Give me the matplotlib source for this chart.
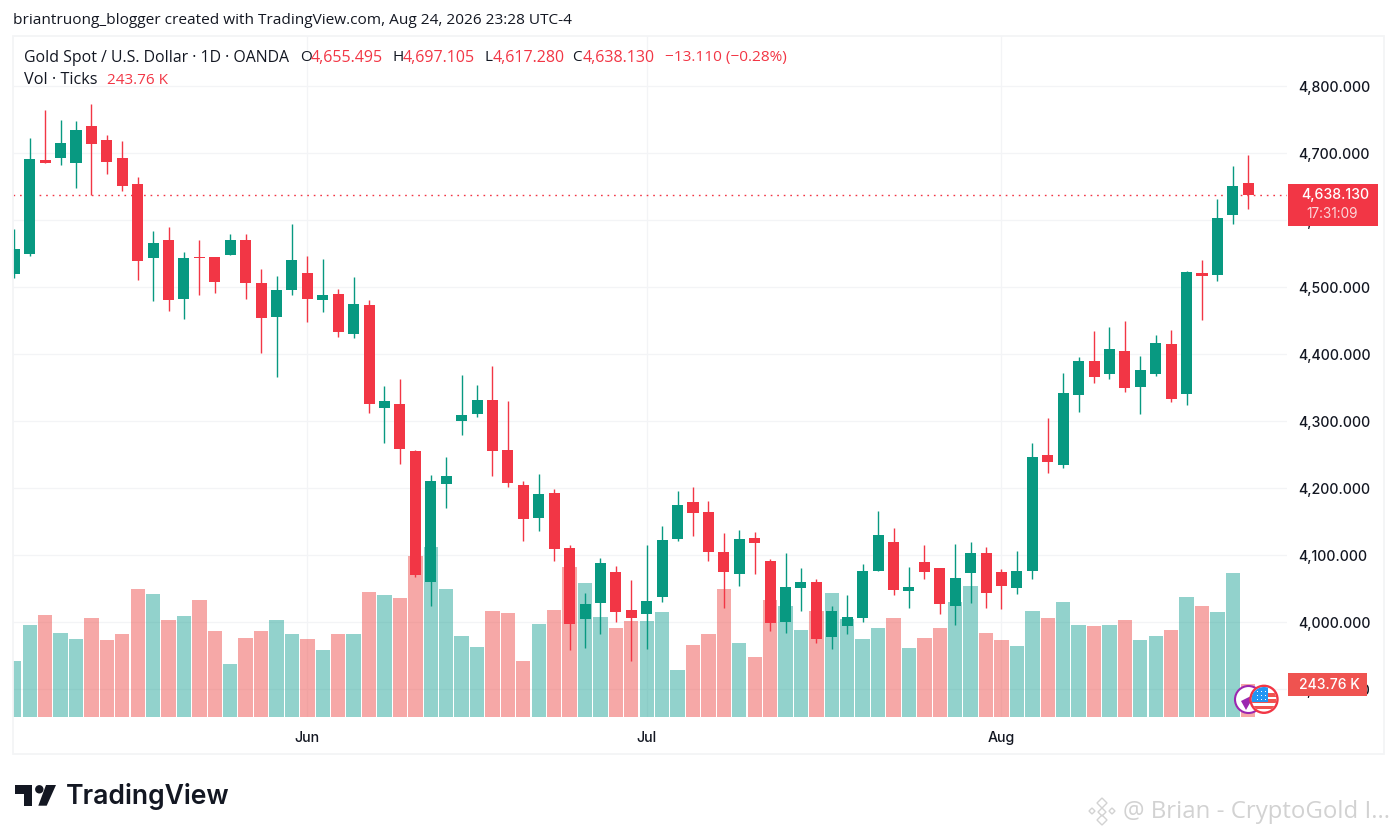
import matplotlib
matplotlib.use("Agg")
import matplotlib.pyplot as plt
from matplotlib.patches import Rectangle, Circle, Polygon

W, H = 1397, 836

# One row per trading day
opens = [4520,4550,4690,4693,4685.5,4741,4720,4693,4654,4544,4571,4483,4545,4545,4548,4571,4506,4456,4496,4521,
         4481,4490,4430,4473.6,4320,4326,4256,4060,4206,4300,4311,4332,4257,4205,4156,4193,4111,4005,4029,4075,
         4018,4012,4038,4124,4180,4165,4105,4072,4126,4091.5,4000.5,4051,4060,3978,3994.5,4006.5,4077,4120,4047,4090,
         4081,4024.4,4073.6,4103.5,4075,4051,4077,4250,4235,4339,4390,4371,4405,4351,4371,4415,4341,4521,4518,4608,4655.495]
highs = [4587,4723,4765,4750,4748,4773.6,4727,4718,4665,4584,4590,4553,4571,4545,4580,4580,4527,4517,4594.5,4547,
         4542,4497.5,4515,4481,4353,4363,4257,4220,4247,4369,4354,4382.6,4330,4211,4221,4199,4115,4044,4096,4084,
         4063,4115,4144,4196,4202,4181,4133,4138,4135,4094.5,4103.5,4081,4065,4024.4,4041,4087,4166,4141,4083,4115.4,
         4081,4117,4120,4112,4080,4106,4268,4305,4372,4396,4435,4441,4450,4397,4429,4436,4524,4541,4632,4681,4697.105]
lows = [4514,4547,4685.5,4682.5,4648,4638,4669,4644,4511,4480,4465,4453,4489,4491.5,4548,4483,4402,4366,4488.5,4448,
        4463,4426,4424,4312,4268,4236,4068,4024,4171,4279.6,4306,4218,4202,4121,4136,4091.5,3959,3962,3982.6,4000.5,
        3942,3960,4030,4121,4129,4091.5,4021,4054,4072,3987,3984,4017,3969,3960,3982.6,4000.5,4077,4041,4021,4065,
        4012.4,3996,4029,4021,4020,4042,4065,4223,4230,4314,4357,4363,4344,4311,4368,4329,4324,4451,4509,4594.5,4617.28]
closes = [4557,4691.5,4685.5,4715,4735,4714,4687,4651,4539,4566,4481,4544,4544,4508,4571,4506,4454,4496,4541,4483,
          4488.5,4433,4475,4326,4330,4259,4071,4211,4218,4309,4332,4256,4208,4154,4191.5,4109,3997,4027,4088,4015.4,
          4006.5,4032,4123,4175,4163,4105,4075,4124.4,4118,3999,4053,4060,3975,4017,4008,4077,4130,4048,4053,4075,
          4027,4066,4103.5,4044,4054,4077,4246.8,4239,4342,4390,4366,4408,4350,4376.6,4417,4333,4523,4517,4603.5,4651,4638.13]
volumes_k = [413.6,679.5,753,620,576,731,569,613,945,908.5,716,746,864,635,391,583,635,716,613,576,
             495,613,613,923,901,879,1189,1256,945,598,517,783,768,414,687,790,1108,990,739,657,
             709,709,775.5,347,532,613,945,547,443,864,820,643,783,916,724,576,657,731,510,583.5,
             657,849,968,620,569,524,783,731,849,680,672,680,716,569,598,643,886,820,776,1064,243.76]

price_ticks = [3900,4000,4100,4200,4300,4400,4500,4600,4700,4800]
month_positions = [19,41,64]
month_labels = ["Jun","Jul","Aug"]

GREEN, RED = "#089981", "#F23645"
VGREEN, VRED = "#26A69A", "#EF5350"
GRID = "#f3f4f6"
TXT = "#131722"
HFONT = ["Open Sans", "DejaVu Sans"]
AFONT = ["Inter", "DejaVu Sans"]

fig = plt.figure(figsize=(W/100, H/100), dpi=100, facecolor="white")

def px_axes(x0, y0, x1, y1):
    return fig.add_axes([x0/W, 1-y1/H, (x1-x0)/W, (y1-y0)/H])

ax = px_axes(13, 36, 1287, 717)
ax.set_zorder(2)
ax.set_xlim(-0.084, 82.51)
ymin, ymax = 3858.7, 4875.1
ax.set_ylim(ymin, ymax)
VOL_SCALE = 0.202   # price units per thousand ticks

n = len(closes)
xs = list(range(n))
up = [c >= o for o, c in zip(opens, closes)]
ccol = [GREEN if u else RED for u in up]
vcol = [VGREEN if u else VRED for u in up]

ax.bar(xs, [v*VOL_SCALE for v in volumes_k], bottom=ymin, width=0.93, color=vcol, alpha=0.5, linewidth=0, zorder=2)
ax.axhline(closes[-1], color=RED, lw=1, dashes=(1.2, 3.5), zorder=3)
ax.vlines(xs, lows, highs, colors=ccol, lw=1.0, zorder=4)
ax.bar(xs, [max(abs(c-o), 1.4) for o, c in zip(opens, closes)], bottom=[min(o, c) for o, c in zip(opens, closes)],
       width=0.715, color=ccol, linewidth=0, zorder=5)

ax.set_xticks(month_positions, month_labels)
ax.set_yticks(price_ticks, [f"{p:,.3f}" for p in price_ticks])
ax.yaxis.tick_right()
ax.tick_params(axis="both", length=0)
ax.tick_params(axis="y", pad=8.3, labelsize=10.2, labelcolor=TXT)
ax.tick_params(axis="x", pad=10, labelsize=10.2, labelcolor=TXT)
for lab in ax.get_yticklabels() + ax.get_xticklabels():
    lab.set_fontfamily(AFONT)
    lab.set_fontweight("medium")
ax.grid(True, color=GRID, lw=0.9, zorder=0)
ax.set_axisbelow(True)
for s in ax.spines.values():
    s.set_visible(False)

# Overlay in pixel coordinates for furniture
ov = fig.add_axes([0, 0, 1, 1], facecolor="none")
ov.set_zorder(5)
ov.set_xlim(0, W)
ov.set_ylim(H, 0)
ov.axis("off")

ov.add_patch(Rectangle((13, 36), 1371, 718, fill=False, ec="#f3f4f6", lw=1.3, zorder=0))

def t(x, y, s, size=10, color=TXT, ha="left", fam=HFONT, **kw):
    return ov.text(x, y, s, fontsize=size, color=color, ha=ha, va="center", family=fam, **kw)

t(13, 20.5, "briantruong_blogger created with TradingView.com, Aug 24, 2026 23:28 UTC-4", size=11.05)
t(24, 57.5, "Gold Spot / U.S. Dollar · 1D · OANDA", size=11.4)
REDT = "#F23645"
for x, s, c, z in [(300, "O", TXT, 11), (311, "4,655.495", REDT, 11.5), (392, "H", TXT, 11), (403, "4,697.105", REDT, 11.5),
                   (484, "L", TXT, 11), (492.5, "4,617.280", REDT, 11.5), (572, "C", TXT, 11), (583, "4,638.130", REDT, 11.5),
                   (665, "−13.110 (−0.28%)", REDT, 11.05)]:
    t(x, 57.5, s, size=z, color=c)
t(24, 80.5, "Vol · Ticks", size=11.7)
t(107, 80.5, "243.76 K", size=11, color=REDT)

# Last price tag
ov.add_patch(Rectangle((1288, 184), 89.5, 42, fc=RED, ec="none", zorder=3))
t(1335, 195, "4,638.130", size=10.2, color="white", ha="center", fam=AFONT, zorder=4, fontweight="medium")
t(1332, 214, "17:31:09", size=9.8, color="#fbd7da", ha="center", fam=AFONT, zorder=4)
# Volume tag
ov.add_patch(Rectangle((1288, 673), 78.5, 23, fc=VRED, ec="none", zorder=3))
t(1329, 685, "243.76 K", size=10, color="white", ha="center", fam=AFONT, zorder=4, fontweight="medium")

# Event icons
ov.add_patch(Circle((1248.5, 699.5), 13.5, fc="white", ec="#9C27B0", lw=1.5, zorder=3))
ov.add_patch(Polygon([(1241, 701), (1253, 695), (1255, 688), (1256, 706), (1250, 703), (1246, 710)],
                     fc="#9C27B0", ec="none", zorder=3))
flag = Circle((1264, 699.3), 13.5, fc="white", ec=RED, lw=1.7, zorder=4)
ov.add_patch(flag)
for r, col, zo in [(Rectangle((1250, 693), 28, 4, ec="none"), "#EF5350", 5),
                   (Rectangle((1250, 699), 28, 3.5, ec="none"), "#EF5350", 5),
                   (Rectangle((1250, 705.5), 28, 3.5, ec="none"), "#EF5350", 5),
                   (Rectangle((1250, 687), 17.5, 15, ec="none"), "#2196F3", 6)]:
    r.set_facecolor(col)
    r.set_zorder(zo)
    ov.add_patch(r)
    r.set_clip_path(Circle((1264, 699.3), 12.3, transform=ov.transData))
for dx in (1257, 1261, 1265):
    for dy in (691, 695, 699):
        ov.add_patch(Rectangle((dx, dy), 1.3, 1.3, fc="white", ec="none", zorder=7))

# TradingView logo
LOGO = "#131722"
ov.add_patch(Polygon([(15.3, 785), (32, 785), (32, 805.7), (24, 805.7), (24, 794), (15.3, 794)], fc=LOGO, ec="none"))
ov.add_patch(Circle((39.3, 789.3), 4.2, fc=LOGO, ec="none"))
ov.add_patch(Polygon([(46, 785), (56, 785), (46.7, 805.7), (38.3, 805.7)], fc=LOGO, ec="none"))
t(65.5, 796, "TradingView", size=19.1, color=LOGO, fam=["Inter", "DejaVu Sans"], fontweight="semibold")

# Watermark
WM = "#d2d2d2"
for cx, cy, r in [(1102, 803, 5), (1092, 811, 3), (1112, 811, 3), (1102, 812, 4), (1102, 820, 5)]:
    ov.add_patch(Polygon([(cx, cy-r), (cx+r, cy), (cx, cy+r), (cx-r, cy)], fc="none", ec=WM, lw=1))
t(1123, 811.5, "@ Brian - CryptoGold I...", size=17.3, color=WM)

fig.savefig("out.png", dpi=100)
